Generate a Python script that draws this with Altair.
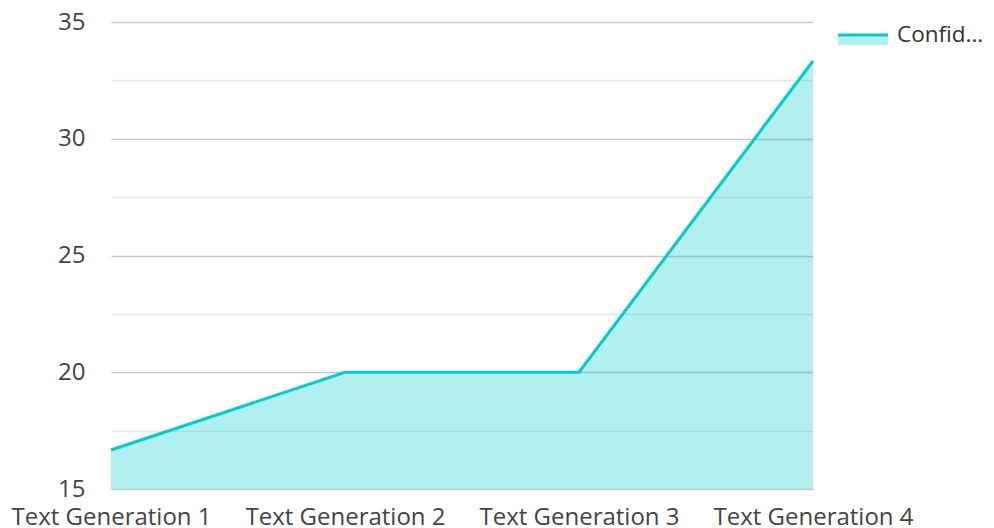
import altair as alt
import pandas as pd

categories = ["Text Generation 1", "Text Generation 2", "Text Generation 3", "Text Generation 4"]
values = [16.67, 20.0, 20.0, 33.33]
series_name = "Confid..."
y_ticks = [15, 17.5, 20, 22.5, 25, 27.5, 30, 32.5, 35]

df = pd.DataFrame({"cat": categories, "val": values})

FONT = "Open Sans"
TEAL = "#00cccc"
FS = 24

x_enc = alt.X("cat:N", sort=categories,
              scale=alt.Scale(type="point", padding=0),
              axis=alt.Axis(title=None, labelAngle=0, labelFontSize=FS, labelFont=FONT,
                            labelColor="#444444", domain=False, ticks=False, labelPadding=16,
                            labelLimit=0, labelOverlap=False, grid=False))
y_enc = alt.Y("val:Q", scale=alt.Scale(domain=[15, 35], nice=False, zero=False),
              axis=alt.Axis(title=None, values=y_ticks, labelFontSize=FS, labelFont=FONT,
                            labelColor="#444444", domain=False, ticks=False, labelPadding=26,
                            labelExpr="datum.value % 5 === 0 ? datum.label : ''",
                            gridColor={"condition": {"test": "datum.value % 5 === 0", "value": "#c8c8c8"},
                                       "value": "#e6e6e6"},
                            gridWidth=1.5))

area = alt.Chart(df).mark_area(color=TEAL, opacity=0.3, clip=True).encode(x=x_enc, y=y_enc)
line = alt.Chart(df).mark_line(color=TEAL, strokeWidth=3).encode(x=x_enc, y=y_enc)

leg_df = pd.DataFrame({"name": [series_name]})
leg_fill = alt.Chart(leg_df).mark_rect(color=TEAL, opacity=0.3).encode(
    x=alt.value(727), x2=alt.value(777), y=alt.value(13), y2=alt.value(23))
leg_line = alt.Chart(leg_df).mark_rule(color=TEAL, strokeWidth=3).encode(
    x=alt.value(727), x2=alt.value(777), y=alt.value(13))
leg_text = alt.Chart(leg_df).mark_text(align="left", baseline="middle", fontSize=22.5, font=FONT,
                                      color="#333333").encode(
    x=alt.value(786), y=alt.value(13), text="name:N")

chart = alt.layer(area, line, leg_fill, leg_line, leg_text).properties(
    width=702, height=467,
    autosize=alt.AutoSizeParams(type="none"),
    padding={"left": 103, "top": 14, "right": 173, "bottom": 38},
).configure_view(stroke=None)

chart.save("out.html", embed_options={"renderer": "svg", "actions": False})
